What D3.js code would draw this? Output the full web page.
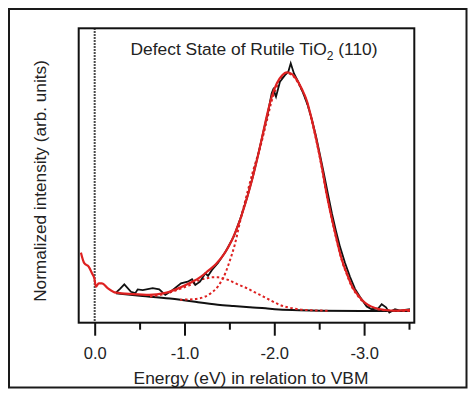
<!DOCTYPE html>
<html>
<head>
<meta charset="utf-8">
<script src="https://cdn.jsdelivr.net/npm/d3@7"></script>
<style>
  body { margin: 0; background: #fff; }
  text { font-family: "Liberation Sans", Arial, sans-serif; fill: #222; }
</style>
</head>
<body>
<svg width="474" height="397"></svg>
<script>
// measured spectrum (black)
var dataE = [-0.237,-0.282,-0.330,-0.404,-0.452,-0.479,-0.535,-0.646,-0.719,-0.764,-0.786,-0.869,-0.961,-1.036,-1.084,-1.120,-1.173,-1.232,-1.262,-1.306,-1.373,-1.462,-1.551,-1.629,-1.696,-1.763,-1.819,-1.875,-1.930,-1.971,-1.989,-2.019,-2.063,-2.119,-2.156,-2.183,-2.219,-2.267,-2.323,-2.375,-2.420,-2.464,-2.509,-2.553,-2.598,-2.643,-2.687,-2.732,-2.788,-2.843,-2.899,-2.955,-3.029,-3.085,-3.158,-3.196,-3.244,-3.281,-3.344,-3.400,-3.511];
var dataI = [0.079,0.095,0.114,0.083,0.077,0.093,0.090,0.098,0.093,0.077,0.070,0.090,0.118,0.125,0.135,0.111,0.125,0.160,0.149,0.174,0.203,0.253,0.315,0.395,0.474,0.565,0.653,0.745,0.832,0.910,0.927,0.896,0.958,0.986,1.000,1.035,0.993,0.958,0.910,0.857,0.799,0.732,0.653,0.574,0.490,0.407,0.336,0.270,0.203,0.145,0.095,0.061,0.021,0.010,0.014,0.031,0.018,-0.004,0.010,0.004,0.010];

// total fit (red)
var fitE = [0.153,0.116,0.067,0.030,0.004,-0.014,-0.045,-0.081,-0.145,-0.237,-0.423,-0.608,-0.775,-0.905,-1.053,-1.184,-1.262,-1.351,-1.440,-1.529,-1.607,-1.679,-1.752,-1.807,-1.863,-1.919,-1.974,-2.030,-2.086,-2.141,-2.197,-2.253,-2.307,-2.363,-2.408,-2.452,-2.497,-2.536,-2.575,-2.620,-2.665,-2.709,-2.754,-2.810,-2.865,-2.921,-2.977,-3.044,-3.122,-3.233,-3.344,-3.456,-3.511];
var fitI = [0.246,0.202,0.188,0.160,0.139,0.104,0.118,0.118,0.098,0.079,0.073,0.070,0.077,0.093,0.118,0.146,0.170,0.199,0.240,0.299,0.370,0.453,0.549,0.632,0.724,0.820,0.899,0.953,0.984,0.997,0.990,0.965,0.928,0.878,0.815,0.745,0.665,0.590,0.507,0.424,0.349,0.278,0.215,0.157,0.107,0.074,0.049,0.028,0.015,0.007,0.004,0.006,0.007];

// background (black, smooth)
var bgE = [-0.237,-0.535,-0.831,-1.173,-1.376,-1.543,-1.729,-1.915,-2.027,-2.286,-2.472,-2.955,-3.511];
var bgI = [0.077,0.065,0.056,0.038,0.028,0.024,0.018,0.014,0.009,0.006,0.004,0.003,0.003];

// main component (red dotted)
var mainE = [-0.950,-1.061,-1.173,-1.284,-1.376,-1.451,-1.507,-1.562,-1.618,-1.693,-1.766,-1.841,-1.908,-1.974,-2.030,-2.086,-2.141,-2.197,-2.253,-2.307,-2.363,-2.408,-2.452,-2.497,-2.536,-2.575,-2.620,-2.665,-2.709,-2.754,-2.810,-2.865,-2.921,-2.977,-3.044,-3.122,-3.233,-3.400,-3.511];
var mainI = [0.050,0.051,0.056,0.074,0.107,0.157,0.215,0.282,0.374,0.486,0.590,0.682,0.782,0.882,0.940,0.978,0.993,0.986,0.961,0.924,0.874,0.811,0.740,0.661,0.586,0.502,0.420,0.345,0.274,0.211,0.153,0.103,0.070,0.045,0.026,0.013,0.006,0.003,0.003];

// small component (red dotted)
var smallE = [-0.616,-0.728,-0.839,-0.950,-1.061,-1.173,-1.247,-1.306,-1.376,-1.440,-1.488,-1.585,-1.693,-1.785,-1.878,-1.969,-2.063,-2.153,-2.249,-2.398,-2.620];
var smallI = [0.063,0.070,0.080,0.095,0.111,0.132,0.139,0.143,0.143,0.138,0.132,0.115,0.098,0.080,0.063,0.045,0.028,0.018,0.011,0.006,0.004];

var tickVals = [0, -1, -2, -3];
var tickLabels = ["0.0", "-1.0", "-2.0", "-3.0"];
var minorVals = [-0.5, -1.5, -2.5, -3.5];

var red = "#de2121";
var pLeft = 78.7, pRight = 414.3, pTop = 28.3, pBottom = 322.7;

var svg = d3.select("svg");

var x = d3.scaleLinear().domain([0.178, -3.559]).range([pLeft, pRight]);
var y = d3.scaleLinear().domain([-0.046, 1.181]).range([pBottom, pTop]);

// outer border
svg.append("rect").attr("x", 9).attr("y", 9).attr("width", 457.5).attr("height", 378.5)
    .attr("fill", "none").attr("stroke", "#1a1a1a").attr("stroke-width", 2);

svg.append("clipPath").attr("id", "clip").append("rect")
    .attr("x", pLeft).attr("y", pTop).attr("width", pRight - pLeft).attr("height", pBottom - pTop);

var plot = svg.append("g").attr("clip-path", "url(#clip)");

var line = d3.line().x(function(d) { return x(d[0]); }).y(function(d) { return y(d[1]); });

// zero line
plot.append("line").attr("x1", x(0)).attr("x2", x(0)).attr("y1", pTop).attr("y2", pBottom)
    .attr("stroke", "#111").attr("stroke-width", 2).attr("stroke-dasharray", "1.5,1.5");

plot.append("path").datum(d3.zip(bgE, bgI))
    .attr("d", line.curve(d3.curveBasis))
    .attr("fill", "none").attr("stroke", "#111").attr("stroke-width", 2);

plot.append("path").datum(d3.zip(smallE, smallI))
    .attr("d", line.curve(d3.curveMonotoneX))
    .attr("fill", "none").attr("stroke", red).attr("stroke-width", 2).attr("stroke-dasharray", "2.5,2.5");

plot.append("path").datum(d3.zip(mainE, mainI))
    .attr("d", line.curve(d3.curveMonotoneX))
    .attr("fill", "none").attr("stroke", red).attr("stroke-width", 2).attr("stroke-dasharray", "2.5,2.5");

plot.append("path").datum(d3.zip(dataE, dataI))
    .attr("d", line.curve(d3.curveLinear))
    .attr("fill", "none").attr("stroke", "#111").attr("stroke-width", 1.8);

plot.append("path").datum(d3.zip(fitE, fitI))
    .attr("d", line.curve(d3.curveMonotoneX))
    .attr("fill", "none").attr("stroke", red).attr("stroke-width", 2.2);

// frame
svg.append("rect").attr("x", pLeft).attr("y", pTop).attr("width", pRight - pLeft).attr("height", pBottom - pTop)
    .attr("fill", "none").attr("stroke", "#111").attr("stroke-width", 2);

// axes
var xaxis = d3.axisBottom(x).tickValues(tickVals).tickSize(13).tickPadding(11.6)
    .tickFormat(function(d, i) { return tickLabels[i]; });
var gx = svg.append("g").attr("transform", "translate(0," + pBottom + ")").call(xaxis);
gx.select(".domain").remove();
gx.selectAll("line").attr("stroke", "#111").attr("stroke-width", 2);
gx.selectAll("text").attr("font-size", 16.5).attr("fill", "#222")
    .style("font-family", "'Liberation Sans', Arial, sans-serif");

var gm = svg.append("g").attr("transform", "translate(0," + pBottom + ")")
    .call(d3.axisBottom(x).tickValues(minorVals).tickSize(7).tickFormat(""));
gm.select(".domain").remove();
gm.selectAll("line").attr("stroke", "#111").attr("stroke-width", 2);

// labels
svg.append("text").attr("x", 251).attr("y", 384).attr("text-anchor", "middle")
    .attr("font-size", 17.4).text("Energy (eV) in relation to VBM");

svg.append("text").attr("transform", "translate(46,181) rotate(-90)").attr("text-anchor", "middle")
    .attr("font-size", 17.2).text("Normalized intensity (arb. units)");

var title = svg.append("text").attr("x", 254).attr("y", 55).attr("text-anchor", "middle")
    .attr("font-size", 17.4);
title.append("tspan").text("Defect State of Rutile TiO");
title.append("tspan").attr("font-size", 12).attr("dy", 5).text("2");
title.append("tspan").attr("dy", -5).text(" (110)");
</script>
</body>
</html>
